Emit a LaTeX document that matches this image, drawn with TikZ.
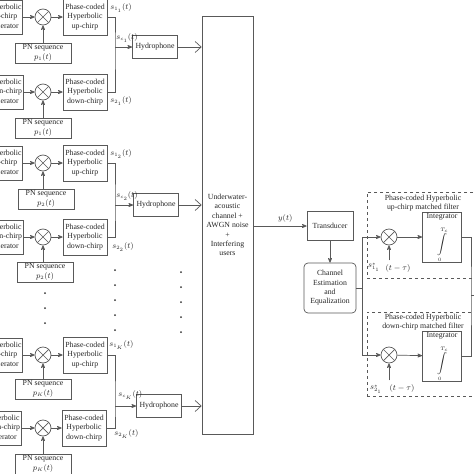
\documentclass[tikz,border=0pt]{standalone}
\usepackage{fontspec}
\setmainfont{Liberation Serif}
\usetikzlibrary{arrows}
\usetikzlibrary{arrows.meta}
\usetikzlibrary{positioning}

\begin{document}
\begin{tikzpicture}[->,>=stealth',x=1pt,y=-1pt,line width=0.7pt,color=black!65,
                    font=\fontsize{7.8}{9.4}\selectfont]
	\tikzstyle{every node}=[text=black!85]
	\tikzstyle{block}=[shape=rectangle,draw=black!65,align=center,inner sep=1pt]
	\tikzstyle{gen}=[block,minimum width=36,minimum height=34]
	\tikzstyle{coder}=[block,minimum width=44,minimum height=36]
	\tikzstyle{pn}=[block,minimum width=56,minimum height=20]
	\tikzstyle{hydro}=[block,minimum width=45,minimum height=23]
	\tikzstyle{integ}=[block,minimum width=39,minimum height=50,
		label={[anchor=north,inner sep=1.5pt]north:Integrator}]
	\tikzstyle{limits}=[inner sep=0pt,font=\fontsize{6}{7}\selectfont]
	\tikzstyle{frame}=[shape=rectangle,draw=black!65,dashed]
	\tikzstyle{title}=[align=center]
	\tikzstyle{sig}=[anchor=west,inner sep=0pt]
	\tikzstyle{mixer}=[shape=circle,draw=black!65,minimum size=16,inner sep=0pt,
		path picture={\draw[-] (path picture bounding box.north west) -- (path picture bounding box.south east)
			(path picture bounding box.south west) -- (path picture bounding box.north east);}]
	\tikzstyle{open}=[-{Straight Barb[length=6pt,width=11pt]}]

	\path[use as bounding box,clip] (0,0) rectangle (474,474);

	% channel
	\node[block,minimum width=51,minimum height=418] (chan) at (227.5,225)
		{Underwater-\\acoustic\\channel +\\AWGN noise\\+\\Interfering\\users};

	% user 1
	\node[gen]   (gen11) at (4,17)   {Hyperbolic\\up-chirp\\generator};
	\node[mixer] (mul11) at (43,17)  {};
	\node[coder] (pc11)  at (85,17)  {Phase-coded\\Hyperbolic\\up-chirp};
	\node[pn]    (pn11)  at (43,53)  {PN sequence\\$p_1(t)$};
	\node[gen]   (gen21) at (4,92)   {Hyperbolic\\down-chirp\\generator};
	\node[mixer] (mul21) at (43,92)  {};
	\node[coder] (pc21)  at (85,92)  {Phase-coded\\Hyperbolic\\down-chirp};
	\node[pn]    (pn21)  at (43,128) {PN sequence\\$p_1(t)$};
	\node[hydro] (hyd1)  at (155,47) {Hydrophone};
	\coordinate  (br1)   at (115,47);
	\node[sig] (s11) at (110,8)   {$s_{1_1}(t)$};
	\node[sig] (sc1) at (116,38)  {$s_{c_1}(t)$};
	\node[sig] (s21) at (110,101) {$s_{2_1}(t)$};

	% user 2
	\node[gen]   (gen12) at (4,163)  {Hyperbolic\\up-chirp\\generator};
	\node[mixer] (mul12) at (43,163) {};
	\node[coder] (pc12)  at (85,163) {Phase-coded\\Hyperbolic\\up-chirp};
	\node[pn]    (pn12)  at (46,199) {PN sequence\\$p_2(t)$};
	\node[gen]   (gen22) at (4,237)  {Hyperbolic\\down-chirp\\generator};
	\node[mixer] (mul22) at (43,237) {};
	\node[coder] (pc22)  at (85,237) {Phase-coded\\Hyperbolic\\down-chirp};
	\node[pn]    (pn22)  at (45,272) {PN sequence\\$p_2(t)$};
	\node[hydro] (hyd2)  at (156,205) {Hydrophone};
	\coordinate  (br2)   at (115,205);
	\node[sig] (s12) at (110,154) {$s_{1_2}(t)$};
	\node[sig] (sc2) at (116,196) {$s_{c_2}(t)$};
	\node[sig] (s22) at (112,247) {$s_{2_2}(t)$};

	% user K
	\node[gen]   (gen1K) at (4,355)  {Hyperbolic\\up-chirp\\generator};
	\node[mixer] (mul1K) at (43,355) {};
	\node[coder] (pc1K)  at (85,355) {Phase-coded\\Hyperbolic\\up-chirp};
	\node[pn]    (pn1K)  at (43,389) {PN sequence\\$p_K(t)$};
	\node[gen]   (gen2K) at (2,428)  {Hyperbolic\\down-chirp\\generator};
	\node[mixer] (mul2K) at (43,428) {};
	\node[coder] (pc2K)  at (84,428) {Phase-coded\\Hyperbolic\\down-chirp};
	\node[pn]    (pn2K)  at (43,464) {PN sequence\\$p_K(t)$};
	\node[hydro] (hydK)  at (159,406) {Hydrophone};
	\coordinate  (brK)   at (115,406);
	\node[sig] (s1K) at (109,345) {$s_{1_K}(t)$};
	\node[sig] (scK) at (118,395) {$s_{c_K}(t)$};
	\node[sig] (s2K) at (114,434) {$s_{2_K}(t)$};

	\path (gen11) edge (mul11) (mul11) edge (pc11) (pn11) edge (mul11)
		(gen21) edge (mul21) (mul21) edge (pc21) (pn21) edge (mul21)
		(gen12) edge (mul12) (mul12) edge (pc12) (pn12.north -| mul12) edge (mul12)
		(gen22) edge (mul22) (mul22) edge (pc22) (pn22.north -| mul22) edge (mul22)
		(gen1K) edge (mul1K) (mul1K) edge (pc1K) (pn1K) edge (mul1K)
		(gen2K) edge (mul2K) (mul2K) edge (pc2K) (pn2K) edge (mul2K)
		(br1) edge (hyd1) (br2) edge (hyd2) (brK) edge (hydK);
	\draw[-] (pc11.east) -| (br1) |- (pc21.east);
	\draw[-] (pc12.east) -| (br2) |- (pc22.east);
	\draw[-] (pc1K.east) -| (brK) |- (pc2K.east);
	\draw[open] (hyd1) -- (hyd1 -| chan.west);
	\draw[open] (hyd2) -- (hyd2 -| chan.west);
	\draw[open] (hydK) -- (hydK -| chan.west);

	\fill[-,black!80] (45,293) circle (1) (45,308) circle (1) (45,323) circle (1)
		(115,270) circle (1) (115,285) circle (1) (115,300) circle (1) (115,315) circle (1) (115,330) circle (1)
		(181,272) circle (1) (181,287) circle (1) (181,302) circle (1) (181,317) circle (1) (181,332) circle (1);

	% receiver
	\node[block,minimum width=46,minimum height=29] (trans) at (330,226) {Transducer};
	\node[block,rounded corners=4pt,minimum width=52,minimum height=50] (est) at (330,288)
		{Channel\\Estimation\\and\\Equalization};
	\coordinate (jr) at (362,288);
	\node[frame,minimum width=115,minimum height=86] (mfu) at (424.5,235) {};
	\node[frame,minimum width=115,minimum height=84] (mfd) at (424.5,354) {};
	\node[title] (mfut) at (423,203) {Phase-coded Hyperbolic\\up-chirp matched filter};
	\node[title] (mfdt) at (423,322) {Phase-coded Hyperbolic\\down-chirp matched filter};
	\node[mixer] (mulu) at (389,237) {};
	\node[mixer] (muld) at (389,355) {};
	\node[integ] (intu) at (442,237) {};
	\node[integ] (intd) at (442,356) {};
	\node[limits] (intgu) at ([yshift=-7.5pt]intu.center) {$\displaystyle\int\limits_0^{T_c}$};
	\node[limits] (intgd) at ([yshift=-7.5pt]intd.center) {$\displaystyle\int\limits_0^{T_c}$};
	\node (refu) at (374,267) {$s^*_{1_1}$};
	\node (tauu) at (398,268) {$(t-\tau)$};
	\node (refd) at (376,389) {$s^*_{2_1}$};
	\node (taud) at (402,388) {$(t-\tau)$};
	\coordinate (jout) at (471,295);
	\coordinate (outend) at (480,295);

	\path (chan.east |- trans) edge node[above,pos=0.6] {$y(t)$} (trans)
		(trans) edge (est)
		(mulu) edge (intu) (muld) edge (intd)
		(tauu.north -| mulu) edge (mulu)
		(taud.north -| muld) edge (muld);
	\draw[-] (est) -- (jr);
	\draw (jr) |- (mulu);
	\draw (jr) |- (muld);
	\draw[-] (intu) -| (jout) |- (intd);
	\draw[-] (jout) -- (outend);
\end{tikzpicture}
\end{document}
